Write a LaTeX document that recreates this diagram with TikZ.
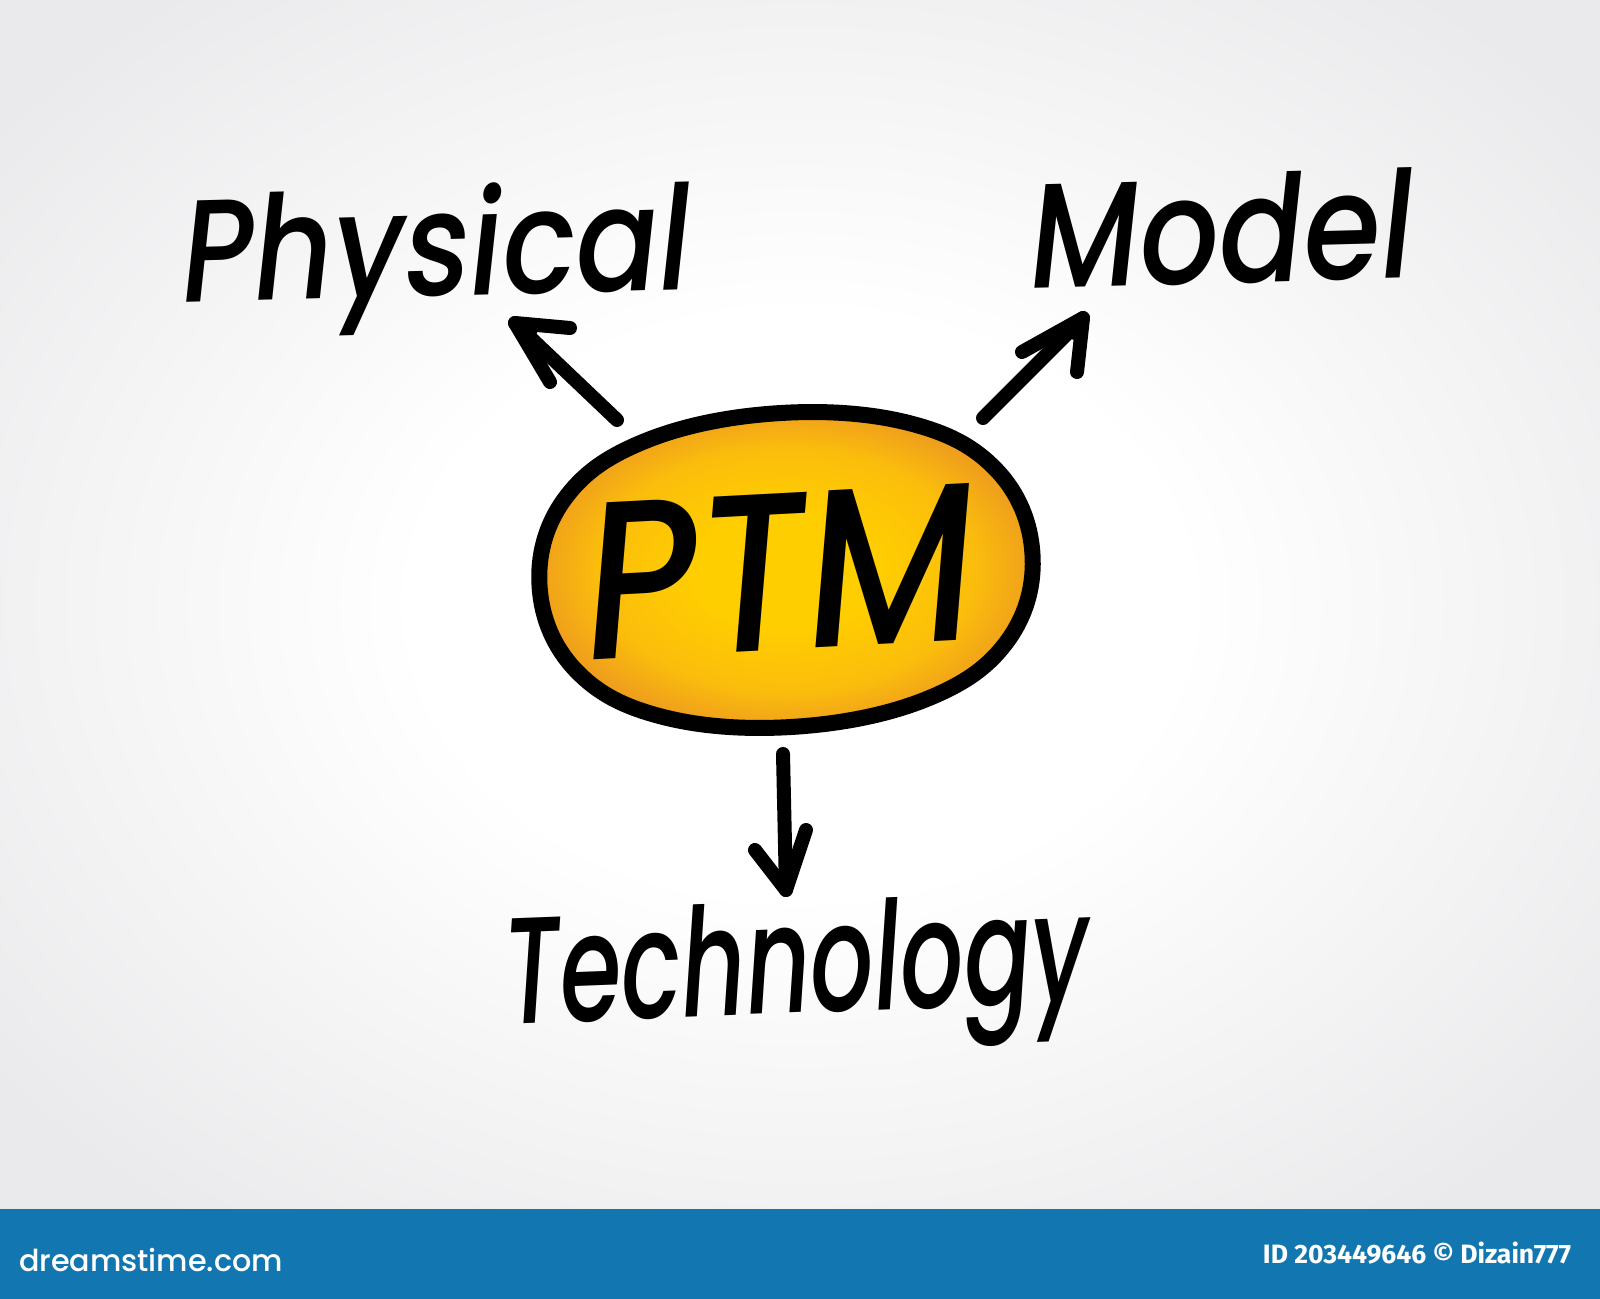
\documentclass[tikz,border=0pt]{standalone}
\usepackage{fontspec}
\usepackage{graphicx}
\usetikzlibrary{calc}
\setmainfont{Poppins}
\newfontfamily\handfont{Poppins Medium}[FakeSlant=0.16]
\newfontfamily\logofont{Poppins Medium}
\newfontfamily\barfont{Fira Sans}
\definecolor{bggray}{HTML}{EAEAEC}
\definecolor{barblue}{HTML}{1277B0}
\definecolor{ptminner}{HTML}{FFCE00}
\definecolor{ptmmid}{HTML}{FBBD0C}
\definecolor{ptmouter}{HTML}{EF9F1C}
\pgfdeclareradialshading{ptmshade}{\pgfpoint{0bp}{0bp}}{color(0bp)=(ptminner); color(9bp)=(ptminner); color(19bp)=(ptmmid); color(25bp)=(ptmouter); color(50bp)=(ptmouter)}
\pgfdeclareradialshading{bgshade}{\pgfpoint{0bp}{0bp}}{color(0bp)=(white); color(12bp)=(white); color(32bp)=(bggray); color(50bp)=(bggray)}
\begin{document}
\begin{tikzpicture}[x=0.5pt,y=-0.5pt,
  handtext/.style={inner sep=0pt, outer sep=0pt, anchor=base, font=\handfont},
  marker/.style={draw=black, line width=7pt, line cap=round, line join=round},
  headfill/.style={fill=black},
  bartext/.style={inner sep=0pt, outer sep=0pt, text=white},
]
\useasboundingbox (0,0) rectangle (1600,1299);
% background
\shade[shading=bgshade] (0,0) rectangle (1600,1209);
\fill[barblue] (0,1209) rectangle (1600,1299);

% central oval
\begin{scope}[shift={(786,570)}, rotate=4]
\draw[draw=black, line width=8pt, line join=round, shading=ptmshade]
  plot[smooth cycle, tension=0.65] coordinates {
  (247,0) (217,-85) (133,-138) (0,-157) (-133,-138) (-217,-85)
  (-247,0) (-217,85) (-133,138) (0,157) (133,138) (217,85)};
\end{scope}
\node[handtext, rotate=3] (ptm) at (775,650) {\resizebox{196pt}{78pt}{PTM}};

% texts
\node[handtext, rotate=1.5] (physical) at (432,296) {\resizebox{255pt}{56pt}{Physical}};
\node[handtext, rotate=1.5] (model) at (1217,283) {\resizebox{192pt}{55pt}{Model}};
\node[handtext, rotate=2.2] (technology) at (794,1013) {\resizebox{293pt}{56pt}{Technology}};

% arrows
\coordinate (pTail) at (617,420);
\coordinate (pTip) at (515,323);
\coordinate (pB1) at (570,328);
\coordinate (pB2) at (550,382);
\draw[marker] (pTail) -- (pTip);
\draw[marker] (pB1) -- (pTip) -- (pB2);
\fill[headfill] (pTip) -- ($(pTip)!0.45!(pB1)$) -- ($(pTip)!0.45!(pB2)$) -- cycle;

\coordinate (mTail) at (983,418);
\coordinate (mTip) at (1083,318);
\coordinate (mB1) at (1022,352);
\coordinate (mB2) at (1077,372);
\draw[marker] (mTail) -- (mTip);
\draw[marker] (mB1) -- (mTip) -- (mB2);
\fill[headfill] (mTip) -- ($(mTip)!0.45!(mB1)$) -- ($(mTip)!0.45!(mB2)$) -- cycle;

\coordinate (tTail) at (783,754);
\coordinate (tTip) at (786,890);
\coordinate (tB1) at (755,850);
\coordinate (tB2) at (806,830);
\draw[marker] (tTail) -- (tTip);
\draw[marker] (tB1) -- (tTip) -- (tB2);
\fill[headfill] (tTip) -- ($(tTip)!0.45!(tB1)$) -- ($(tTip)!0.45!(tB2)$) -- cycle;

% bottom bar texts
\node[bartext, anchor=base west, font=\logofont] (logo) at (19,1271) {\resizebox{132pt}{!}{dreamstime.com}};
\node[bartext, anchor=base east, font=\barfont\bfseries] (credit) at (1571,1263) {\resizebox{154pt}{!}{ID 203449646 © Dizain777}};
\end{tikzpicture}
\end{document}
